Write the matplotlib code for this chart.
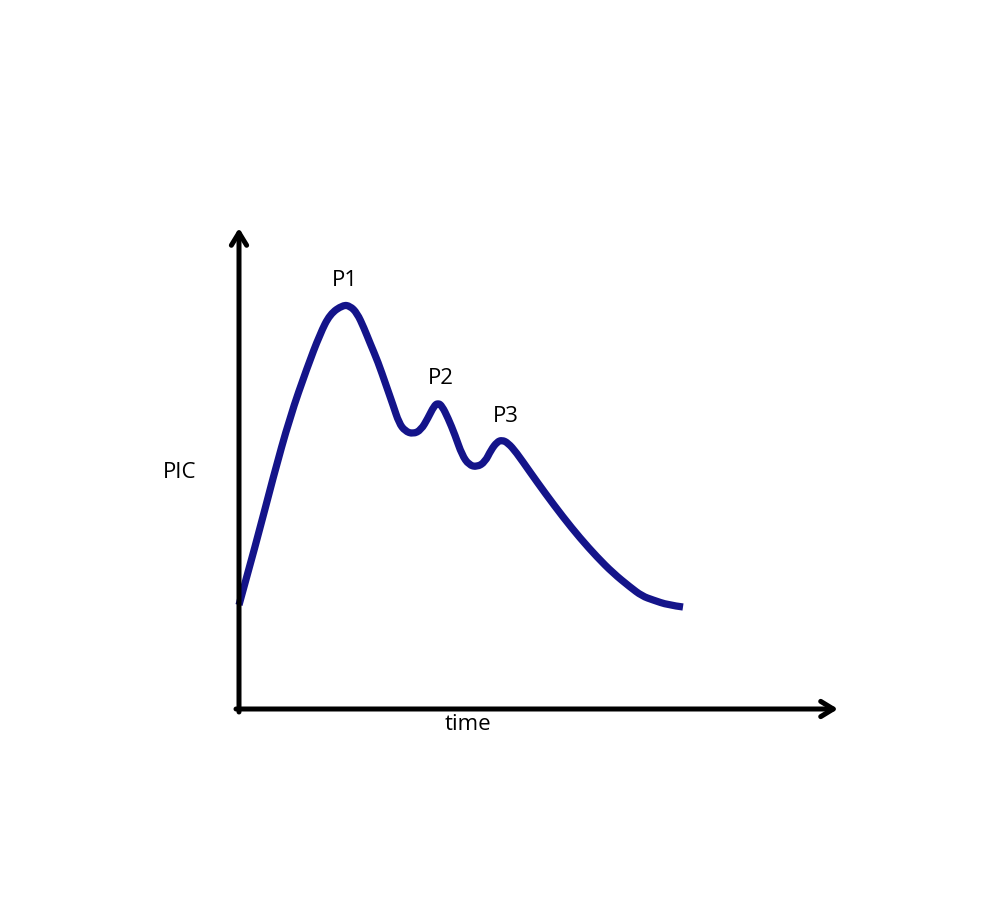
# ICP waveform sketch: P1, P2, P3 peaks
import numpy as np
import matplotlib.pyplot as plt
from matplotlib.path import Path
from matplotlib.patches import PathPatch

# time / pressure samples (arbitrary units)
time = [0, 18, 34, 51, 68, 81, 91, 104, 111, 118,
        125, 131, 139, 147, 154, 160, 166, 174, 182, 189, 195, 199, 203, 209,
        216, 223, 230, 238, 246, 252, 258, 263, 269, 277, 291, 306, 324, 341,
        358, 374, 391, 403, 414, 429, 444]
pic = [104, 169, 231, 292, 341, 375, 395, 404, 403, 396,
       381, 366, 347, 324, 304, 286, 278, 275, 279, 291, 303,
       306, 303, 291, 274, 254, 244, 242, 247, 259, 267, 269, 266, 257, 237,
       216, 192, 171, 152, 136, 122, 113, 109, 104, 102]

peak_labels = ["P1", "P2", "P3"]
peak_pos = [(106, 428), (202, 331), (267, 292)]

plt.rcParams['font.family'] = ['Open Sans', 'DejaVu Sans']

fig = plt.figure(figsize=(10, 9.16), dpi=100)
ax = fig.add_axes([0, 0, 1, 1])
ax.set_xlim(-239, 761)
ax.set_ylim(-207, 709)
ax.axis('off')

# smooth stroke: samples used as quadratic bezier control points
pts = np.column_stack([time, pic]).astype(float)
verts = [pts[0]]
codes = [Path.MOVETO]
for i in range(1, len(pts) - 1):
    mid = (pts[i] + pts[i + 1]) / 2 if i < len(pts) - 2 else pts[i + 1]
    verts += [pts[i], mid]
    codes += [Path.CURVE3, Path.CURVE3]
ax.add_patch(PathPatch(Path(verts, codes), fill=False, edgecolor='#14148a',
                       lw=5.2, capstyle='butt', joinstyle='round'))

# axes arrows
arrow = dict(arrowstyle='->,head_length=0.9,head_width=0.55', lw=3.6,
             color='black', shrinkA=0, shrinkB=0)
ax.annotate('', xy=(0, 481), xytext=(0, -3), arrowprops=arrow)
ax.annotate('', xy=(599, 0), xytext=(-3, 0), arrowprops=arrow)

for lab, (x, y) in zip(peak_labels, peak_pos):
    ax.text(x, y, lab, fontsize=16, ha='center', va='center')
ax.text(-59, 236, "PIC", fontsize=16, ha='center', va='center')
ax.text(229, -15, "time", fontsize=16, ha='center', va='center')

fig.savefig("out.png", dpi=100)
